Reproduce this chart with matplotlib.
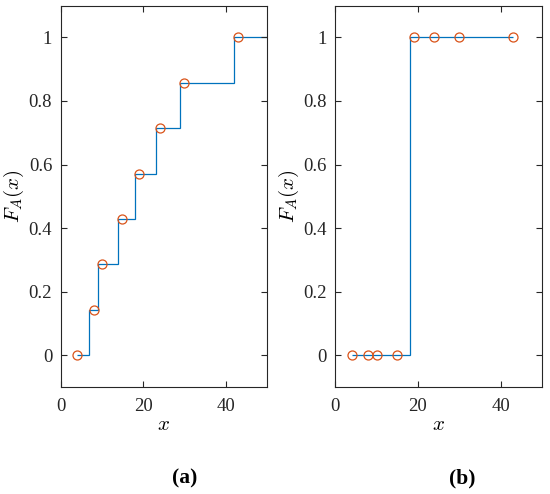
import matplotlib
matplotlib.use("Agg")
import matplotlib.pyplot as plt
import numpy as np

plt.rcParams['font.family'] = ['Liberation Serif', 'DejaVu Serif']
plt.rcParams['mathtext.fontset'] = 'cm'

# sample points and empirical CDF values
x_pts = [4, 8, 10, 15, 19, 24, 30, 43]
fa_pts = [0, 1/7, 2/7, 3/7, 4/7, 5/7, 6/7, 1]
# step curve (a): edges where the level changes
a_edges = [4, 7, 9, 14, 18, 23, 29, 42, 50]
a_levels = [0, 1/7, 2/7, 3/7, 4/7, 5/7, 6/7, 1]

fb_pts = [0, 0, 0, 0, 1, 1, 1, 1]
b_edges = [4, 18, 43]
b_levels = [0, 1]

blue = '#0072BD'
orange = '#D95319'
axcol = '#262626'

fig = plt.figure(figsize=(5.5, 4.94), dpi=100)
ax_a = fig.add_axes([0.110, 0.2166, 0.3755, 0.772])
ax_b = fig.add_axes([0.6096, 0.2166, 0.3755, 0.772])

for ax, edges, levels, ys in [(ax_a, a_edges, a_levels, fa_pts),
                              (ax_b, b_edges, b_levels, fb_pts)]:
    ax.stairs(levels, edges, color=blue, lw=0.9, baseline=None)
    ax.plot(x_pts, ys, 'o', mfc='none', mec=orange, ms=6.5, mew=0.9)
    ax.set_xlim(0, 50)
    ax.set_ylim(-0.1, 1.1)
    ax.set_xticks([0, 20, 40])
    ax.set_yticks([0, 0.2, 0.4, 0.6, 0.8, 1])
    ax.set_yticklabels(['0', '0.2', '0.4', '0.6', '0.8', '1'])
    ax.tick_params(direction='in', top=True, right=True, length=4,
                   width=0.8, colors=axcol, labelsize=13.5, pad=6)
    ax.tick_params(axis='x', pad=8)
    for s in ax.spines.values():
        s.set_color(axcol)
        s.set_linewidth(0.8)
    ax.set_xlabel('$x$', fontsize=15, labelpad=1)
    ax.set_ylabel('$F_A(x)$', fontsize=15, labelpad=2)

fig.text(0.335, 0.032, '(a)', fontsize=15.5, fontweight='bold', ha='center', va='center')
fig.text(0.840, 0.032, '(b)', fontsize=15.5, fontweight='bold', ha='center', va='center')

fig.savefig('out.png', dpi=100)
